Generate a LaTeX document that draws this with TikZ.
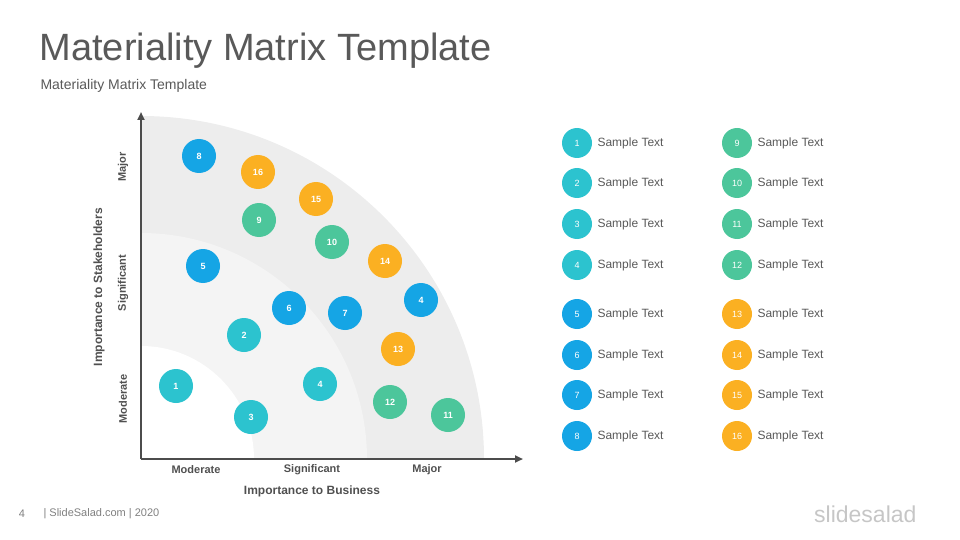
\documentclass[tikz,border=0pt]{standalone}
\usepackage{fontspec}
\setmainfont{Liberation Sans}
\usetikzlibrary{arrows.meta}
\definecolor{cteal}{HTML}{2CC3CF}
\definecolor{cblue}{HTML}{15A5E5}
\definecolor{cgreen}{HTML}{4CC69B}
\definecolor{corange}{HTML}{FBB022}
\definecolor{ctext}{HTML}{595959}
\definecolor{zoneout}{HTML}{EDEDED}
\definecolor{zonemid}{HTML}{F4F4F4}
\tikzset{
  dot/.style={circle, fill=#1, minimum size=34pt, inner sep=0pt, text=white, font=\fontsize{9}{10}\selectfont\bfseries},
  key/.style={circle, fill=#1, minimum size=30pt, inner sep=0pt, text=white, font=\fontsize{9}{10}\selectfont},
  lbl/.style={text=ctext, font=\fontsize{12}{14}\selectfont, anchor=west},
  axlbl/.style={text=ctext!90!black, font=\fontsize{11}{13}\selectfont\bfseries}
}
\begin{document}
\begin{tikzpicture}[x=1pt, y=-1pt]
\useasboundingbox (0,0) rectangle (960,540);
% title
\node[anchor=west, text=ctext, font=\fontsize{38}{42}\selectfont] (title) at (36,51) {Materiality Matrix Template};
\node[anchor=west, text=ctext, font=\fontsize{14}{16}\selectfont] (subtitle) at (37,86) {Materiality Matrix Template};
% zones
\coordinate (o) at (141,459);
\fill[zoneout] (o) -- ++(343,0) arc[start angle=0, end angle=-90, radius=343] -- cycle;
\fill[zonemid] (o) -- ++(226,0) arc[start angle=0, end angle=-90, radius=226] -- cycle;
\fill[white] (o) -- ++(113,0) arc[start angle=0, end angle=-90, radius=113] -- cycle;
% axes
\draw[ctext!85!black, line width=2pt, -{Triangle[length=8pt,width=7pt]}] (o) -- (523,459);
\draw[ctext!85!black, line width=2pt, -{Triangle[length=8pt,width=7pt]}] (o) -- (141,112);
\node[axlbl] (xm) at (196,470) {Moderate};
\node[axlbl] (xs) at (312,470) {Significant};
\node[axlbl] (xj) at (427,470) {Major};
\node[axlbl, font=\fontsize{12}{14}\selectfont\bfseries] (xt) at (312,491) {Importance to Business};
\node[axlbl, rotate=90] (ym) at (123,399) {Moderate};
\node[axlbl, rotate=90] (ys) at (123,283) {Significant};
\node[axlbl, rotate=90] (yj) at (123,167) {Major};
\node[axlbl, rotate=90, font=\fontsize{12}{14}\selectfont\bfseries] (yt) at (99,287) {Importance to Stakeholders};
% points
\foreach \n/\c/\x/\y in {8/cblue/199/156, 16/corange/258/172, 15/corange/316/199,
  9/cgreen/259/220, 10/cgreen/332/242, 14/corange/385/261, 5/cblue/203/266,
  4/cblue/421/300, 6/cblue/289/308, 7/cblue/345/313, 2/cteal/244/335,
  13/corange/398/349, 1/cteal/176/386, 4/cteal/320/384, 12/cgreen/390/402,
  3/cteal/251/417, 11/cgreen/448/415}
  \node[dot=\c] (p\n\c) at (\x,\y) {\n};
% legend
\foreach \n/\c/\y in {1/cteal/143, 2/cteal/183, 3/cteal/224, 4/cteal/265,
  5/cblue/314, 6/cblue/355, 7/cblue/395, 8/cblue/436}{
  \node[key=\c] (k\n) at (577,\y) {\n};
  \node[lbl] (t\n) at (594,\y) {Sample Text};
}
\foreach \n/\c/\y in {9/cgreen/143, 10/cgreen/183, 11/cgreen/224, 12/cgreen/265,
  13/corange/314, 14/corange/355, 15/corange/395, 16/corange/436}{
  \node[key=\c] (k\n) at (737,\y) {\n};
  \node[lbl] (t\n) at (754,\y) {Sample Text};
}
% footer
\node[text=gray, font=\fontsize{11}{13}\selectfont] (page) at (22,514) {4};
\node[anchor=west, text=gray, font=\fontsize{11}{13}\selectfont] (site) at (40,514) {| SlideSalad.com | 2020};
\node[anchor=east, text=gray!45, font=\fontsize{23}{26}\selectfont] (brand) at (920,514) {slidesalad};
\end{tikzpicture}
\end{document}
